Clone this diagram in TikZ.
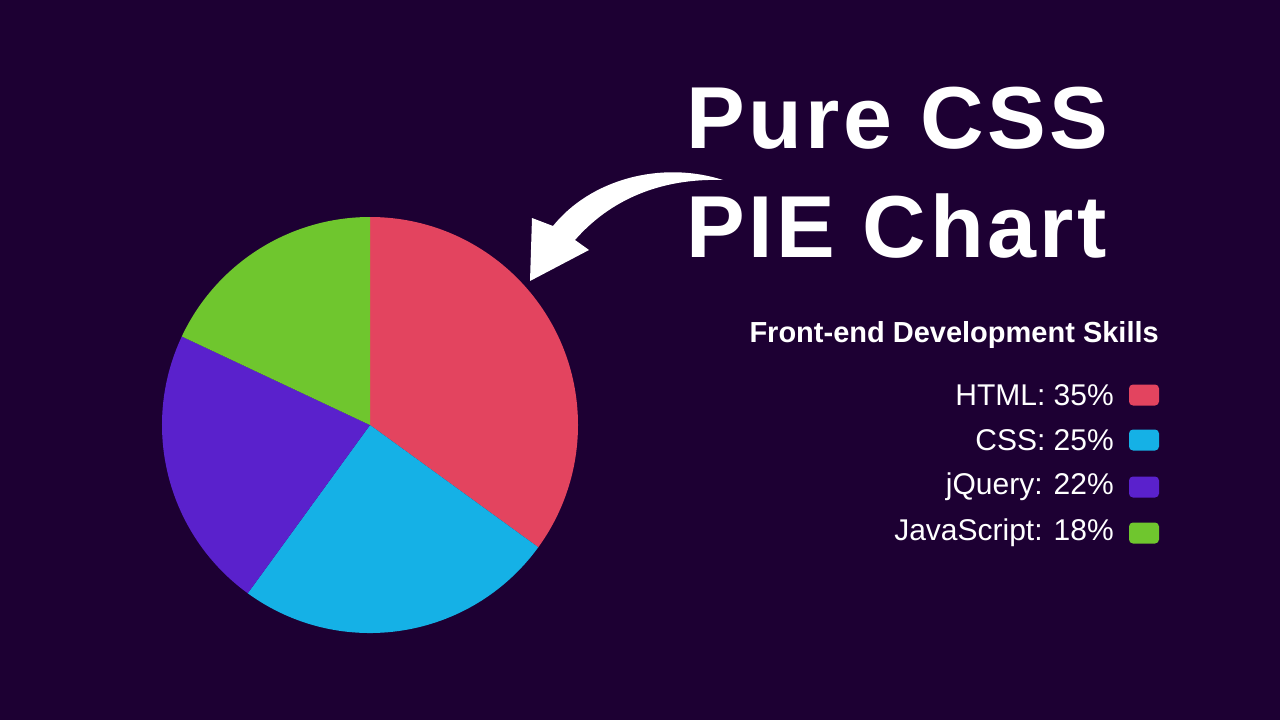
\documentclass[tikz,border=0pt]{standalone}
\usepackage{fontspec}
\setmainfont{Liberation Sans}
\definecolor{bgdark}{HTML}{1D0033}
\definecolor{htmlred}{HTML}{E3445F}
\definecolor{csscyan}{HTML}{15B1E6}
\definecolor{jqpurple}{HTML}{5A21CC}
\definecolor{jsgreen}{HTML}{6FC62E}
\tikzset{
  legtext/.style={anchor=east, text=white, inner sep=0pt, font=\fontsize{30}{32}\selectfont},
  titletext/.style={anchor=base west, text=white, inner sep=0pt, font=\fontsize{88}{90}\bfseries\addfontfeature{LetterSpace=4}},
  swatch/.style={minimum width=30pt, minimum height=21pt, rounded corners=4pt, inner sep=0pt}
}
\begin{document}
\begin{tikzpicture}[x=1pt,y=-1pt]
  % background
  \fill[bgdark] (0,0) rectangle (1280,720);
  \useasboundingbox (0,0) rectangle (1280,720);

  % pie slices (angles run clockwise on the page)
  \coordinate (ctr) at (370,425);
  \foreach \col/\a/\b in {htmlred/-90/36, csscyan/36/126, jqpurple/126/205.2, jsgreen/205.2/270}{
    \fill[\col] (ctr) -- +(\a:208) arc[start angle=\a, end angle=\b, radius=208] -- cycle;
  }

  % curved arrow
  \fill[white] (723,180) .. controls (660,160) and (590,180) .. (553,226)
    -- (532,218) -- (530,281) -- (589,250) -- (575,240)
    .. controls (610,200) and (660,178) .. (723,180) -- cycle;

  % title
  \node[titletext] (title1) at (686,148) {Pure CSS};
  \node[titletext] (title2) at (686,257) {PIE Chart};

  % legend
  \node[anchor=east, text=white, inner sep=0pt, font=\fontsize{29}{32}\bfseries] (heading) at (1159,335) {Front-end Development Skills};
  \foreach \name/\txt/\col/\yy in {html/HTML: 35\%/htmlred/395, css/CSS: 25\%/csscyan/440, jq/jQuery: 22\%/jqpurple/487, js/JavaScript: 18\%/jsgreen/533}{
    \node[swatch, fill=\col] (sw-\name) at (1144,\yy) {};
    \node[legtext] (lab-\name) at (1114,\yy) {\txt};
  }
\end{tikzpicture}
\end{document}
